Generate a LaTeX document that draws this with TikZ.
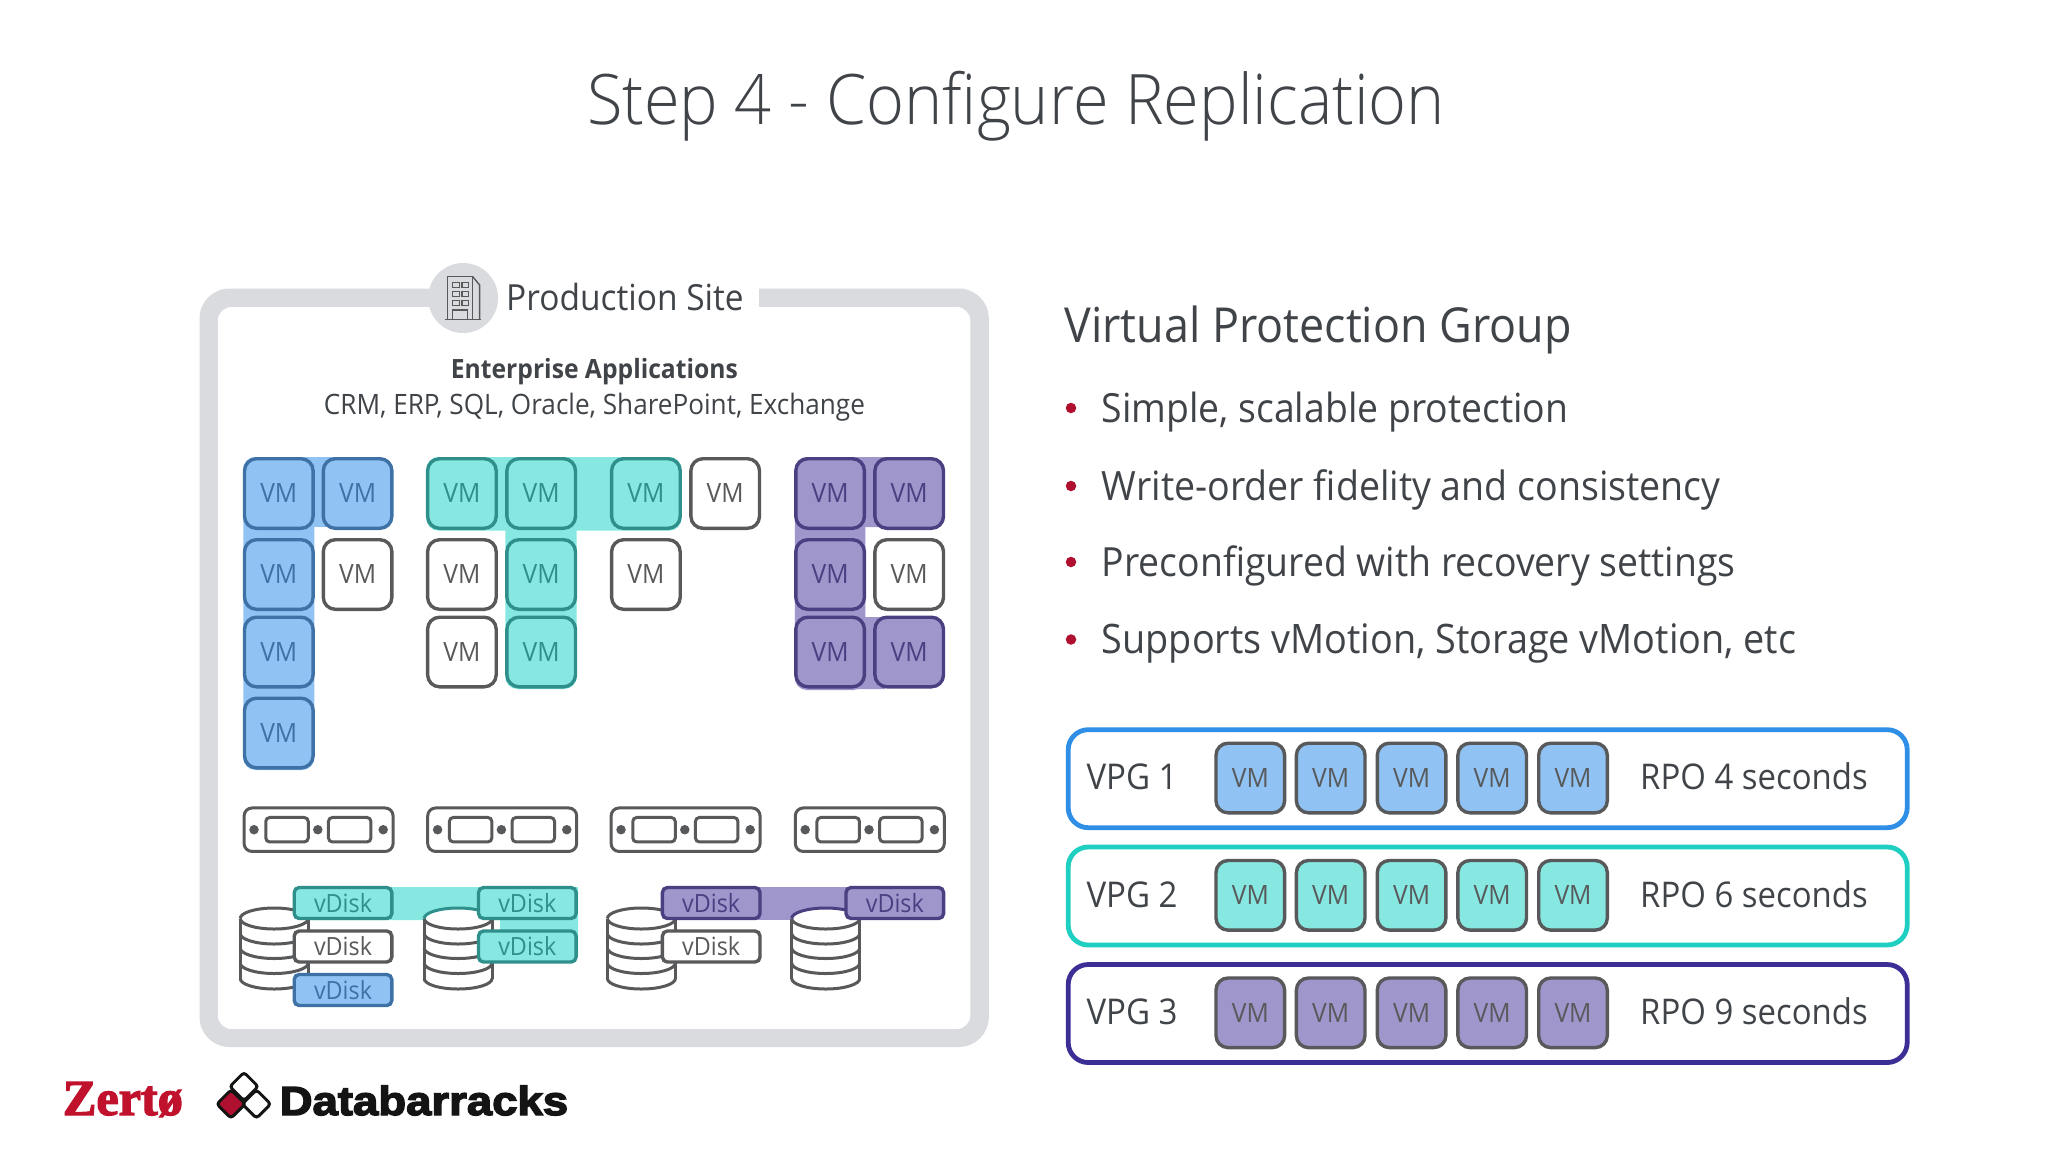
\documentclass[tikz,border=0pt]{standalone}
\usepackage{fontspec}
\usepackage{graphicx}
\setmainfont{Open Sans}[FakeStretch=0.93]
\newfontfamily\titlefont{Open Sans Light}[FakeStretch=0.93]
\newfontfamily\zertofont{Liberation Serif}[FakeBold=2.5]
\newfontfamily\dbfont{Liberation Sans}[FakeBold=3.5,FakeStretch=1.12]
\newcommand{\fit}[2]{\resizebox{#1pt}{!}{\fontsize{40}{48}\selectfont #2}}
\definecolor{band}{HTML}{D9DBDF}
\definecolor{ink}{HTML}{404448}
\definecolor{gr}{HTML}{58595B}
\definecolor{fb}{HTML}{90C3F3}
\definecolor{ft}{HTML}{86E8E1}
\definecolor{fp}{HTML}{9F96CC}
\definecolor{fw}{HTML}{FFFFFF}
\definecolor{db}{HTML}{3E72A6}
\definecolor{dt}{HTML}{2F8F8B}
\definecolor{dp}{HTML}{4B3F82}
\definecolor{dw}{HTML}{58595B}
\definecolor{tb}{HTML}{3E72A6}
\definecolor{tt}{HTML}{2F8F8B}
\definecolor{tp}{HTML}{4B3F82}
\definecolor{tw}{HTML}{58595B}
\definecolor{vpgb}{HTML}{2F8FE6}
\definecolor{vpgt}{HTML}{1FCFC2}
\definecolor{vpgp}{HTML}{3B2F96}
\definecolor{rd}{HTML}{B01030}
\definecolor{zr}{HTML}{C0122C}
\definecolor{lg}{HTML}{141414}
\tikzset{
  vm/.style={rectangle,rounded corners=12pt,minimum width=68.6pt,minimum height=69.6pt,line width=3.4pt,inner sep=0pt},
  vd/.style={rectangle,rounded corners=5pt,minimum width=97.6pt,minimum height=31pt,line width=3.4pt,inner sep=0pt},
  srv/.style={rectangle,rounded corners=8pt,draw=gr,fill=white,minimum width=149pt,minimum height=43.5pt,line width=3pt,inner sep=0pt},
  slot/.style={rectangle,rounded corners=4pt,draw=gr,fill=white,minimum width=42.5pt,minimum height=24.5pt,line width=3pt,inner sep=0pt},
  dotn/.style={circle,fill=gr,minimum size=9.5pt,inner sep=0pt},
  vpg/.style={rectangle,rounded corners=20pt,fill=white,minimum width=839pt,minimum height=98pt,line width=4.8pt,inner sep=0pt},
  txt/.style={text=ink,inner sep=0pt,anchor=base west},
  bul/.style={circle,fill=rd,minimum size=10.5pt,inner sep=0pt},
  cyl/.style={line width=3pt,draw=gr},
  dmd/.style={rectangle,rounded corners=3pt,rotate=45,minimum size=20pt,line width=3pt,draw=lg,inner sep=0pt},
  bld/.style={draw=gr,line width=1.4pt},
}
\newcommand{\cylinder}[2]{%
  \fill[white] (#1-34,918.5) -- (#1-34,978.5) arc[start angle=180,end angle=0,x radius=34,y radius=10.5] -- (#1+34,918.5) arc[start angle=0,end angle=-180,x radius=34,y radius=10.5] -- cycle;
  \draw[cyl] (#1-34,918.5) -- (#1-34,978.5) (#1+34,918.5) -- (#1+34,978.5);
  \foreach \ry in {918.5,933.5,948,963,978.5}
    \draw[cyl] (#1-34,\ry) arc[start angle=180,end angle=0,x radius=34,y radius=10.5];
  \draw[cyl,draw=#2] (#1-34,918.5) arc[start angle=-180,end angle=0,x radius=34,y radius=10.5];
}
\begin{document}
\begin{tikzpicture}[x=1pt,y=-1pt]
\useasboundingbox (0,0) rectangle (2048,1152);
\fill[white] (0,0) rectangle (2048,1152);
% title
\node[txt,anchor=base] (title) at (1016,124.5) {\fit{858}{\titlefont Step 4 - Configure Replication}};
% frame
\fill[band,rounded corners=30pt] (199.5,288.5) rectangle (988.8,1047);
\fill[white,rounded corners=14pt] (217.8,307) rectangle (970.4,1029);
\fill[white] (480,285) rectangle (758.5,308);
\node[circle,fill=band,minimum size=70pt,inner sep=0pt] (site) at (463.1,298) {};
% building icon
\begin{scope}[shift={(-1.4,0)}]
\draw[bld] (449,319.3) -- (449,276.5) -- (474,276.5) -- (474,319.3);
\draw[bld] (474,276.5) -- (481,285) -- (481,319.3);
\draw[bld] (446.5,319.3) -- (482.5,319.3);
\foreach \wx in {454,463.4} \foreach \wy in {282.7,291.7,300.7}
  \draw[bld,line width=1.1pt] (\wx,\wy) rectangle ++(6.6,4.4);
\draw[bld,line width=1.1pt] (454,319.3) -- (454,310) -- (469,310) -- (469,319.3);
\end{scope}
\node[txt] (sitelabel) at (506,310.5) {\fit{237.5}{Production Site}};
\node[txt,anchor=base] (ent) at (594.4,378) {\fit{287}{\textbf{Enterprise Applications}}};
\node[txt,anchor=base] (apps) at (594.4,414) {\fit{541}{CRM, ERP, SQL, Oracle, SharePoint, Exchange}};
% group bands
\fill[fb,rounded corners=12pt] (243.3,457) rectangle (314.3,770);
\fill[fb] (300,457) rectangle (335,527);
\fill[ft,rounded corners=12pt] (426.4,457) rectangle (681.4,530.7);
\fill[ft,rounded corners=12pt] (505.3,470) rectangle (576.5,689);
\fill[fp,rounded corners=12pt] (794.8,457) rectangle (865.4,690);
\fill[fp] (850,457) rectangle (885,527) (850,617) rectangle (885,689);
% VMs
\foreach \x/\y/\s/\n in {
  278.8/493.5/b/a1,357.6/493.5/b/a2,278.8/574.5/b/a3,357.6/574.5/w/a4,278.8/652/b/a5,278.8/733/b/a6,
  461.9/493.5/t/b1,541.2/493.5/t/b2,461.9/574.5/w/b3,541.2/574.5/t/b4,461.9/652/w/b5,541.2/652/t/b6,
  645.9/493.5/t/c1,725.2/493.5/w/c2,645.9/574.5/w/c3,
  830.1/493.5/p/d1,909.2/493.5/p/d2,830.1/574.5/p/d3,909.2/574.5/w/d4,830.1/652/p/d5,909.2/652/p/d6}
  \node[vm,fill=f\s,draw=d\s,text=t\s] (vm\n) at (\x,\y) {\fit{37}{VM}};
% servers
\foreach \x/\n in {318.6/1,502.2/2,685.6/3,869.8/4}{
  \node[srv] (srv\n) at (\x,829.7) {};
  \node[slot] (slotA\n) at (\x-31.6,829.7) {};
  \node[slot] (slotB\n) at (\x+31.1,829.7) {};
  \node[dotn] (dotA\n) at (\x-64.6,829.7) {};
  \node[dotn] (dotB\n) at (\x-0.8,829.7) {};
  \node[dotn] (dotC\n) at (\x+64.6,829.7) {};
}
% storage bands
\fill[ft] (300,887) rectangle (578,920) (500,887) rectangle (578,955);
\fill[fp] (670,887) rectangle (940,920);
% cylinders
\cylinder{274.2}{gr}
\cylinder{458.1}{dt}
\cylinder{641.4}{gr}
\cylinder{825.7}{dp}
% vDisks
\foreach \x/\y/\s/\n in {
  343/903/t/a,343/946.5/w/b,343/990/b/c,
  527.3/903/t/d,527.3/946.5/t/e,
  711.2/903/p/f,711.2/946.5/w/g,
  894.8/903/p/h}
  \node[vd,fill=f\s,draw=d\s,text=t\s] (vd\n) at (\x,\y) {\fit{58}{vDisk}};
% right column
\node[txt] (vpgtitle) at (1064.4,342.7) {\fit{507}{Virtual Protection Group}};
\foreach \yb/\w/\t/\n in {
  422/466.3/{Simple, scalable protection}/1,
  500/618.8/{Write-order fidelity and consistency}/2,
  576/633.7/{Preconfigured with recovery settings}/3,
  653.5/694.4/{Supports vMotion, Storage vMotion, etc}/4}{
  \node[bul] (bul\n) at (1071,\yb-14) {};
  \node[txt] (item\n) at (1101.6,\yb) {\fit{\w}{\t}};
}
% VPGs
\foreach \yc/\s/\n/\rpo in {778.7/b/1/4,896/t/2/6,1013.5/p/3/9}{
  \node[vpg,draw=vpg\s] (vpg\n) at (1487.7,\yc) {};
  \node[txt] (vpglabel\n) at (1086.3,\yc+11) {\fit{91}{VPG \n}};
  \node[txt] (rpo\n) at (1640,\yc+11) {\fit{227.5}{RPO \rpo{} seconds}};
  \foreach \x [count=\i] in {1250.3,1330.7,1411.6,1492.2,1573}
    \node[vm,fill=f\s,draw=gr,text=gr] (p\n vm\i) at (\x,\yc-0.7) {\fit{37}{VM}};
}
% logos
\node[inner sep=0pt,anchor=base west,text=zr] (zerto) at (62.7,1115) {\fit{120}{\zertofont\bfseries Zertø}};
\node[dmd,fill=white] (dmdT) at (244,1086.5) {};
\node[dmd,fill=white] (dmdR) at (256.5,1104) {};
\node[dmd,fill=rd] (dmdL) at (231,1104) {};
\node[inner sep=0pt,anchor=base west,text=lg] (db) at (279.5,1115) {\fit{288.5}{\dbfont\bfseries Databarracks}};
\end{tikzpicture}
\end{document}
